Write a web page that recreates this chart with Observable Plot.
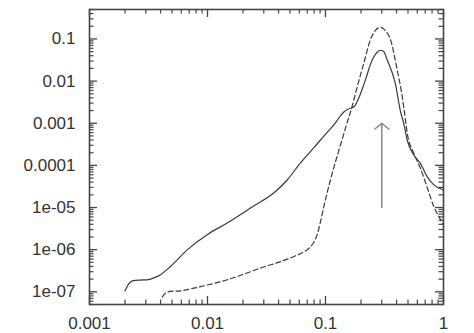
<!DOCTYPE html>
<html><head><meta charset="utf-8">
<script src="https://cdn.jsdelivr.net/npm/d3@7"></script>
<script src="https://cdn.jsdelivr.net/npm/@observablehq/plot@0.6"></script>
<style>body{margin:0;background:#fff}</style>
</head><body><div id="chart"></div>
<script>
// Solid curve
const solidX = [0.00200,0.00215,0.00235,0.00270,0.00308,0.0036,0.0040,0.00486,0.00673,0.0100,0.0147,0.0231,0.0390,0.0473,0.0614,0.0797,0.0907,0.1000,0.1176,0.134,0.143,0.155,0.165,0.175,0.191,0.218,0.249,0.270,0.290,0.310,0.333,0.390,0.432,0.460,0.492,0.560,0.638,0.727,0.828,1.0];
const solidY = [1.05e-7,1.55e-7,1.85e-7,1.9e-7,1.93e-7,2.2e-7,2.55e-7,4.0e-7,9.9e-7,2.3e-6,4.3e-6,9.7e-6,2.6e-5,4.5e-5,1.15e-4,2.64e-4,4.0e-4,5.5e-4,9.1e-4,1.5e-3,1.85e-3,2.15e-3,2.3e-3,2.5e-3,3.9e-3,1.07e-2,3.2e-2,4.6e-2,5.4e-2,5.1e-2,3.2e-2,8.9e-3,1.9e-3,1.0e-3,4.0e-4,1.77e-4,1.1e-4,5.4e-5,3.45e-5,2.6e-5];
// Dashed curve
const dashedX = [0.00413,0.0044,0.0048,0.0060,0.00765,0.0100,0.0147,0.0281,0.0539,0.0700,0.0746,0.0796,0.0851,0.0900,0.0968,0.110,0.130,0.150,0.168,0.186,0.211,0.240,0.265,0.292,0.320,0.356,0.405,0.447,0.476,0.492,0.560,0.638,0.740,0.828,0.912,1.0];
const dashedY = [7.5e-8,9.3e-8,1.02e-7,1.06e-7,1.22e-7,1.45e-7,1.93e-7,3.65e-7,6.9e-7,1.0e-6,1.17e-6,1.5e-6,2.3e-6,4.2e-6,1.05e-5,4.5e-5,2.3e-4,8.8e-4,2.5e-3,7.4e-3,2.65e-2,9.5e-2,0.16,0.189,0.16,9.5e-2,1.84e-2,4.3e-3,1.2e-3,6e-4,1.95e-4,8.5e-5,2.6e-5,1.05e-5,6.1e-6,3.9e-6];
// Axes
const xDomain = [0.001, 1];
const yDomain = [5e-8, 0.5];
const xTicks = [0.001, 0.01, 0.1, 1];
const xTickLabels = ["0.001", "0.01", "0.1", "1"];
const yTicks = [1e-7, 1e-6, 1e-5, 1e-4, 1e-3, 1e-2, 1e-1];
const yTickLabels = ["1e-07", "1e-06", "1e-05", "0.0001", "0.001", "0.01", "0.1"];
// Arrow
const arrowX = [0.3];
const arrowFrom = [1e-5];
const arrowTo = [1e-3];

const solid = solidX.map((x, i) => ({x, y: solidY[i]}));
const dashed = dashedX.map((x, i) => ({x, y: dashedY[i]}));
const arrows = arrowX.map((x, i) => ({x, y1: arrowFrom[i], y2: arrowTo[i]}));

function minorTicks([lo, hi]) {
  const out = [];
  for (let e = Math.floor(Math.log10(lo)); e <= Math.ceil(Math.log10(hi)); e++) {
    for (let k = 2; k <= 9; k++) {
      const v = k * Math.pow(10, e);
      if (v >= lo * 0.999 && v <= hi * 1.001) out.push(v);
    }
  }
  return out;
}
const xMinor = minorTicks(xDomain);
const yMinor = minorTicks(yDomain);
const xFmt = d => xTickLabels[xTicks.findIndex(t => Math.abs(Math.log10(t) - Math.log10(d)) < 1e-6)] ?? "";
const yFmt = d => yTickLabels[yTicks.findIndex(t => Math.abs(Math.log10(t) - Math.log10(d)) < 1e-6)] ?? "";
const axisColor = "#444";

const W = 474, H = 333, mL = 89, mR = 31, mT = 9, mB = 29;
const innerW = W - mL - mR, innerH = H - mT - mB;
const majorLen = 8, minorLen = 4.5;

const chart = Plot.plot({
  width: W,
  height: H,
  marginLeft: mL,
  marginRight: mR,
  marginTop: mT,
  marginBottom: mB,
  style: {fontFamily: "'Liberation Sans', Arial, Helvetica, sans-serif", fontSize: "17px", color: "#333", background: "#fff"},
  x: {type: "log", domain: xDomain},
  y: {type: "log", domain: yDomain},
  marks: [
    Plot.axisX({anchor: "bottom", ticks: xTicks, tickSize: 0, tickPadding: 12, tickFormat: xFmt, label: null}),
    Plot.axisY({anchor: "left", ticks: yTicks, tickSize: 0, tickPadding: 14, tickFormat: yFmt, label: null}),
    // inward ticks, mirrored on all four sides
    Plot.tickX(xTicks, {x: d => d, insetTop: innerH - majorLen, stroke: axisColor, strokeWidth: 1.3}),
    Plot.tickX(xTicks, {x: d => d, insetBottom: innerH - majorLen, stroke: axisColor, strokeWidth: 1.3}),
    Plot.tickX(xMinor, {x: d => d, insetTop: innerH - minorLen, stroke: axisColor, strokeWidth: 1.2}),
    Plot.tickX(xMinor, {x: d => d, insetBottom: innerH - minorLen, stroke: axisColor, strokeWidth: 1.2}),
    Plot.tickY(yTicks, {y: d => d, insetRight: innerW - majorLen, stroke: axisColor, strokeWidth: 1.3}),
    Plot.tickY(yTicks, {y: d => d, insetLeft: innerW - majorLen, stroke: axisColor, strokeWidth: 1.3}),
    Plot.tickY(yMinor, {y: d => d, insetRight: innerW - minorLen, stroke: axisColor, strokeWidth: 1.2}),
    Plot.tickY(yMinor, {y: d => d, insetLeft: innerW - minorLen, stroke: axisColor, strokeWidth: 1.2}),
    Plot.line(solid, {x: "x", y: "y", curve: "monotone-x", stroke: "#3a3a3a", strokeWidth: 1.2}),
    Plot.line(dashed, {x: "x", y: "y", curve: "monotone-x", stroke: "#3a3a3a", strokeWidth: 1.2, strokeDasharray: "5,3"}),
    Plot.arrow(arrows, {x: "x", y1: "y1", y2: "y2", stroke: "#888", strokeWidth: 1.5, headLength: 9, headAngle: 100}),
    Plot.frame({stroke: axisColor, strokeWidth: 1.6})
  ]
});
document.getElementById("chart").appendChild(chart);
</script>
</body></html>
